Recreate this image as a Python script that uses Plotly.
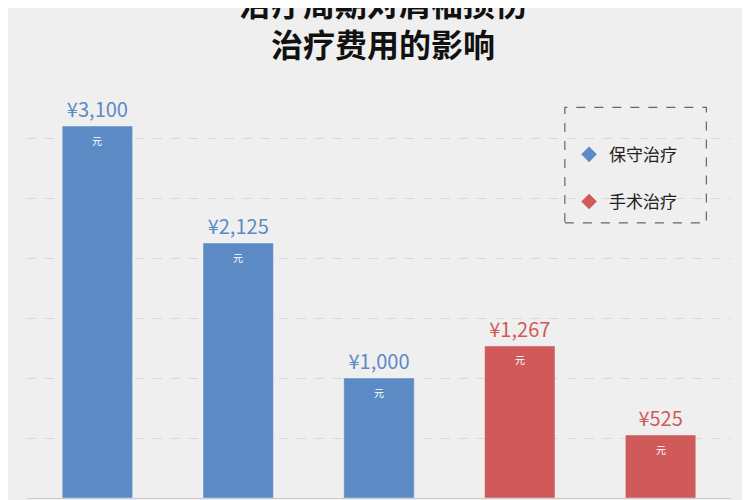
import plotly.graph_objects as go

categories = ["1个月", "3个月", "6个月", "手术+3个月", "手术+6个月"]
conservative_x = ["1个月", "3个月", "6个月"]
conservative_vals = [3100, 2125, 1000]
surgery_x = ["手术+3个月", "手术+6个月"]
surgery_vals = [1267, 525]
blue = "#5b8ac4"
red = "#d05a5a"

fig = go.Figure()
for xs, vs, c in [(conservative_x, conservative_vals, blue), (surgery_x, surgery_vals, red)]:
    fig.add_trace(go.Bar(x=xs, y=vs, marker_color=c, showlegend=False,
                         text=[f"¥{v:,}" for v in vs], textposition="outside",
                         textfont=dict(size=20, color=c), cliponaxis=False))
    for x, v in zip(xs, vs):
        fig.add_annotation(x=x, y=v, text="元", showarrow=False, yshift=-14,
                           font=dict(size=10, color="white"))
fig.add_trace(go.Scatter(x=[None], y=[None], mode="markers", name="保守治疗", legendgroup="a",
                         marker=dict(symbol="diamond", size=18, color=blue)))
fig.add_trace(go.Scatter(x=[None], y=[None], mode="markers", name="手术治疗", legendgroup="b",
                         marker=dict(symbol="diamond", size=18, color=red)))

fig.update_layout(
    width=750, height=500, paper_bgcolor="#efefef", plot_bgcolor="#efefef",
    margin=dict(l=19, r=27, t=70, b=10),
    barmode="overlay", bargap=0.5,
    font=dict(family="Noto Sans CJK SC"),
    title=dict(text="<b>治疗周期对肩袖损伤<br>治疗费用的影响</b>", x=0.5, y=0.985,
               yanchor="top", xanchor="center", font=dict(size=32, color="#111")),
    xaxis=dict(categoryorder="array", categoryarray=categories, showticklabels=False,
               showline=True, linecolor="#cccccc"),
    yaxis=dict(range=[0, 3500], dtick=500, showticklabels=False, zeroline=False,
               gridcolor="#d8d8d8", griddash="dash"),
    legend=dict(x=0.77, y=0.86, xanchor="left", yanchor="top", bgcolor="rgba(0,0,0,0)",
                font=dict(size=17, color="#222"), itemsizing="constant", tracegroupgap=22),
)
fig.add_shape(type="rect", xref="paper", yref="paper", x0=0.764, x1=0.965, y0=0.655, y1=0.93,
              line=dict(color="#666", width=1.2, dash="dash"))
fig.write_html("out.html")
